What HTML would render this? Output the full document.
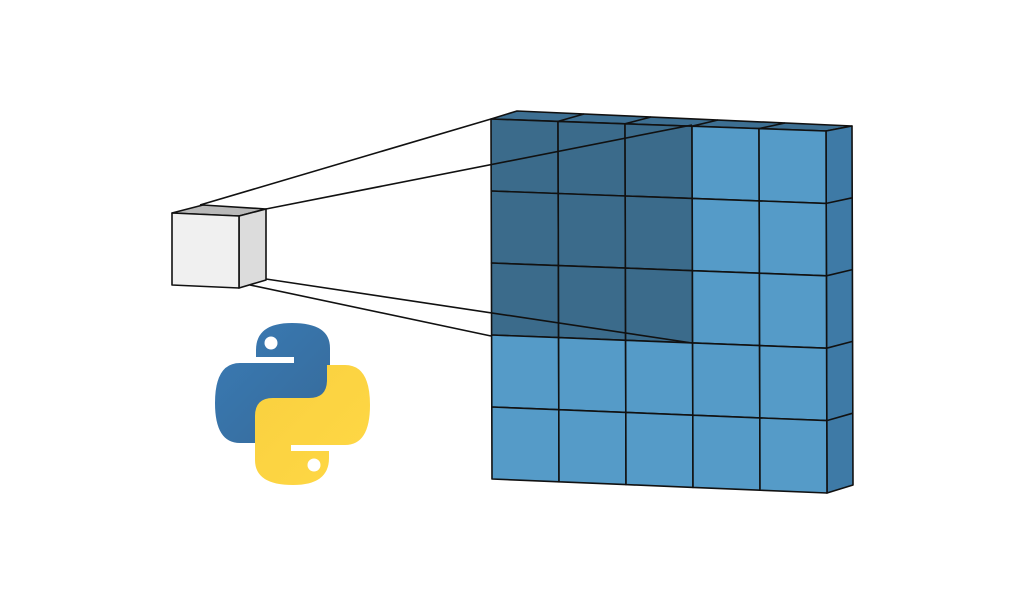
<!DOCTYPE html>
<html><head><style>html,body{margin:0;padding:0;background:#fff}svg{display:block}</style></head>
<body>
<svg width="1024" height="613" viewBox="0 0 1024 613" xmlns="http://www.w3.org/2000/svg">
<defs>
<linearGradient id="gb" x1="0" y1="0" x2="1" y2="1"><stop offset="0" stop-color="#3a7bb5"/><stop offset="1" stop-color="#366a99"/></linearGradient>
<linearGradient id="gy" x1="0" y1="0" x2="1" y2="1"><stop offset="0" stop-color="#ffd845"/><stop offset="1" stop-color="#f9d03f"/></linearGradient>
</defs>
<g stroke="#111" stroke-width="1.6" stroke-linejoin="round">
<polygon points="491,119 517,111 852,126 826,131" fill="#3d6f92"/>
<polygon points="826,131 852,126 853,485 827,493" fill="#3e7aa6"/>
<g id="cells"></g>
</g>
<script>
(function(){
var TL=[491,119],TR=[826,131],BL=[492,479],BR=[827,493];
function P(u,v){var x=TL[0]*(1-u)*(1-v)+TR[0]*u*(1-v)+BL[0]*(1-u)*v+BR[0]*u*v;var y=TL[1]*(1-u)*(1-v)+TR[1]*u*(1-v)+BL[1]*(1-u)*v+BR[1]*u*v;return x.toFixed(1)+","+y.toFixed(1);}
var g=document.getElementById("cells"),ns="http://www.w3.org/2000/svg";
for(var r=0;r<5;r++)for(var c=0;c<5;c++){var p=document.createElementNS(ns,"polygon");
p.setAttribute("points",[P(c/5,r/5),P((c+1)/5,r/5),P((c+1)/5,(r+1)/5),P(c/5,(r+1)/5)].join(" "));
p.setAttribute("fill",(r<3&&c<3)?"#3b6b8b":"#559bc8");g.appendChild(p);}
for(var r=1;r<5;r++){var l=document.createElementNS(ns,"line");var v=r/5;
var y1=131+(493-131)*v,y2=126+(485-126)*v;l.setAttribute("x1",826+v);l.setAttribute("y1",y1);l.setAttribute("x2",852+v);l.setAttribute("y2",y2);g.appendChild(l);}
for(var c=1;c<5;c++){var l=document.createElementNS(ns,"line");var u=c/5;
l.setAttribute("x1",491+335*u);l.setAttribute("y1",119+12*u);l.setAttribute("x2",517+335*u);l.setAttribute("y2",111+15*u);g.appendChild(l);}
})();
</script>
<g stroke="#111" stroke-width="1.6" fill="none">
<line x1="200" y1="205" x2="491" y2="119"/>
<line x1="266" y1="209" x2="692" y2="125"/>
<line x1="266" y1="279" x2="692" y2="343"/>
<line x1="250" y1="285" x2="491" y2="336"/>
</g>
<g stroke="#111" stroke-width="1.6" stroke-linejoin="round">
<polygon points="172,213 203,205 266,209 239,216" fill="#b9b9b9"/>
<polygon points="239,216 266,209 266,280 239,288" fill="#dcdcdc"/>
<polygon points="172,213 239,216 239,288 172,285" fill="#f0f0f0"/>
</g>
<g>
<path d="M256,350 Q256,323 292,323 Q330,323 330,348 L330,392 Q330,410 312,410 L276,410 Q258,410 258,428 L258,443 L240,443 Q215,443 215,403 Q215,363 240,363 L294,363 L294,357 L256,357 Z" fill="url(#gb)"/>
<path d="M256,350 Q256,323 292,323 Q330,323 330,348 L330,392 Q330,410 312,410 L276,410 Q258,410 258,428 L258,443 L240,443 Q215,443 215,403 Q215,363 240,363 L294,363 L294,357 L256,357 Z" fill="url(#gy)" transform="rotate(180 292.5 404)"/>
<circle cx="271" cy="343" r="6.5" fill="#fff"/>
<circle cx="314" cy="465" r="6.5" fill="#fff"/>
</g>
</svg>
</body></html>
